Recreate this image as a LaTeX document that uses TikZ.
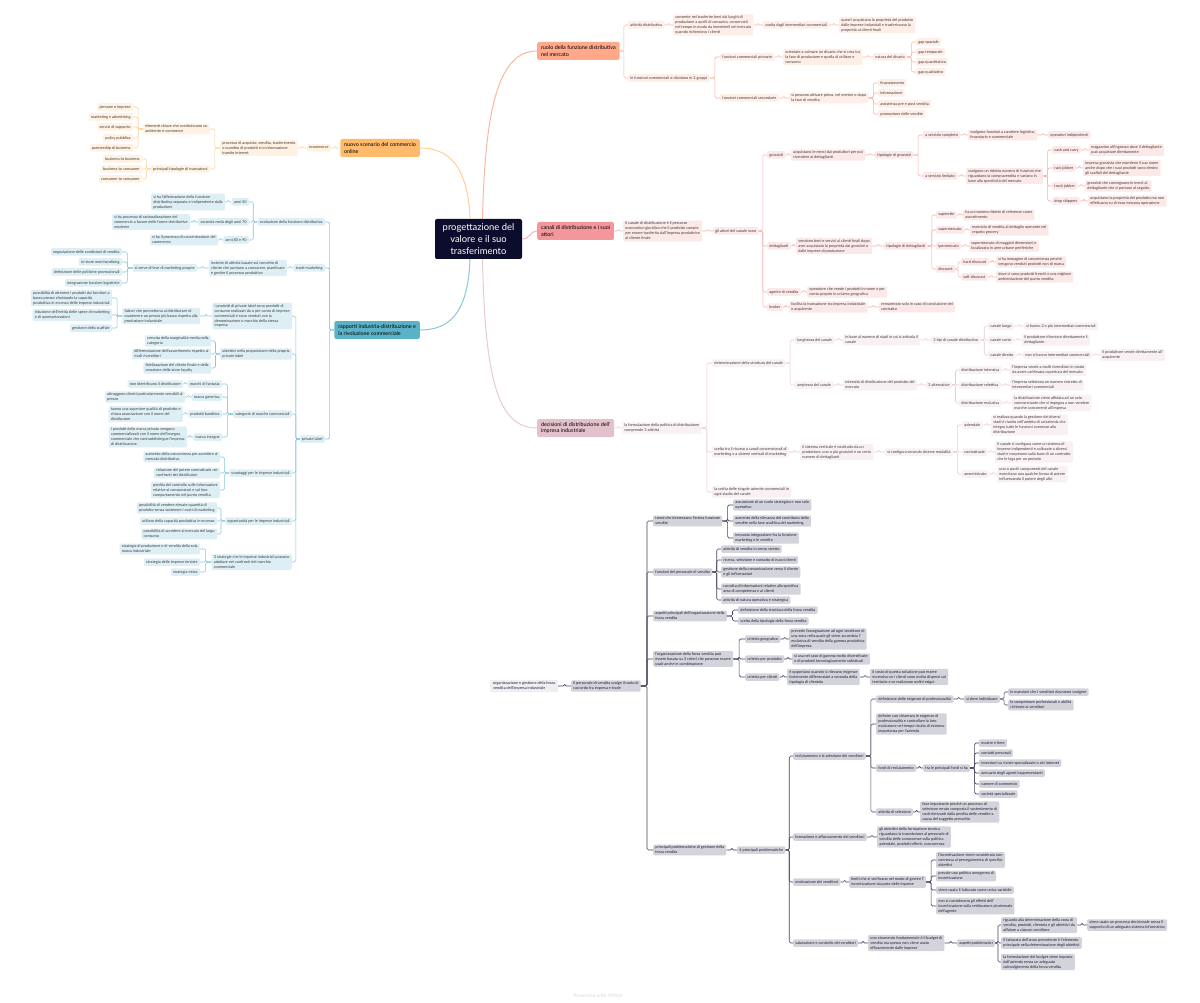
\documentclass[tikz,border=0pt]{standalone}
\usepackage{fontspec}
\setmainfont{Lato}
\usetikzlibrary{calc}
\definecolor{roM}{HTML}{FFA98A}\definecolor{roF}{HTML}{FFEEE7}\definecolor{roL}{HTML}{FBB8A2}
\definecolor{caM}{HTML}{F4979B}\definecolor{caF}{HTML}{FDE8E8}\definecolor{caL}{HTML}{F5AFB0}
\definecolor{deM}{HTML}{E3C1CB}\definecolor{deF}{HTML}{F9F0F3}\definecolor{deL}{HTML}{E6CBD4}
\definecolor{nsM}{HTML}{FFBA6B}\definecolor{nsF}{HTML}{FFF2E2}\definecolor{nsL}{HTML}{FFD096}
\definecolor{raM}{HTML}{5BB2C7}\definecolor{raF}{HTML}{DDEFF5}\definecolor{raL}{HTML}{86C9DA}
\definecolor{ogM}{HTML}{EFEFF3}\definecolor{ogF}{HTML}{D3D3DC}\definecolor{ogL}{HTML}{45455E}
\definecolor{ogT}{HTML}{1C1C30}\definecolor{txt}{HTML}{3A3A3A}\definecolor{rootF}{HTML}{0C0C2C}
\definecolor{footC}{HTML}{DADADA}
\newcommand\myleaf{\fontsize{3.85}{4.95}\selectfont}
\newcommand\mymain{\fontsize{5.4}{6.6}\selectfont}
\newcommand\cR[3]{\draw[#1] (#2.east) -- ($(#2.east)!.5!(#3.west|-#2.east)$) |- (#3.west);}
\newcommand\cL[3]{\draw[#1] (#2.west) -- ($(#2.west)!.5!(#3.east|-#2.west)$) |- (#3.east);}
\tikzset{
  leaf/.style={rounded corners=1.2pt, inner xsep=2.2pt, inner ysep=1.5pt, align=left, font=\myleaf, text=txt, minimum height=7.5pt},
  ro/.style={leaf, fill=roF, anchor=west},
  ca/.style={leaf, fill=caF, anchor=west},
  de/.style={leaf, fill=deF, anchor=west},
  ns/.style={leaf, fill=nsF, anchor=east},
  ra/.style={leaf, fill=raF, anchor=east},
  og/.style={leaf, fill=ogF, anchor=west, text=ogT},
  mainbox/.style={rounded corners=2pt, inner xsep=3.8pt, inner ysep=2.3pt, align=left, font=\mymain, minimum height=18pt, text=black},
  lk/.style={line width=0.55pt, rounded corners=1.5pt},
  lro/.style={lk, draw=roL}, lca/.style={lk, draw=caL}, lde/.style={lk, draw=deL},
  lns/.style={lk, draw=nsL}, lra/.style={lk, draw=raL}, log/.style={lk, draw=ogL, line width=0.6pt},
  trunk/.style={line width=1pt}
}
\begin{document}
\begin{tikzpicture}[x=1pt,y=-1pt]
\fill[white] (0,0) rectangle (1200,1003);
\useasboundingbox (0,0) rectangle (1200,1003);

% root
\node[fill=rootF, text=white, rounded corners=2pt, align=center, font=\fontsize{9.4}{11.6}\selectfont, minimum width=87pt, minimum height=40pt, inner sep=2pt] (root) at (478.5,239) {progettazione del\\valore e il suo\\trasferimento};

% main topics
\node[mainbox, fill=roM, anchor=west] (M1) at (537,51) {ruolo della funzione distributiva\\nel mercato};
\node[mainbox, fill=caM, anchor=west] (M2) at (537,231) {canali di distribuzione e i suoi\\attori};
\node[mainbox, fill=deM, anchor=west] (M3) at (537,428) {decisioni di distribuzione dell'\\impresa industriale};
\node[mainbox, fill=nsM, anchor=east] (M4) at (420,148) {nuovo scenario del commercio\\online};
\node[mainbox, fill=raM, anchor=east] (M5) at (420,330) {rapporti industria-distribuzione e\\la rivoluzione commerciale};
\node[leaf, fill=ogM, anchor=west, text=ogT, inner xsep=3pt, inner ysep=2pt] (M6) at (490,686) {organizzazione e gestione della forza\\vendita dell'impresa industriale};

\draw[trunk, roL] ($(root.north)+(4,0)$) .. controls (485,110) and (498,51) .. (M1.west);
\draw[trunk, caL] (root.east) .. controls (530,239) and (530,231) .. (M2.west);
\draw[trunk, deL] ($(root.south)+(4,0)$) .. controls (485,380) and (498,428) .. (M3.west);
\draw[trunk, nsL] ($(root.north)+(-8.5,0)$) .. controls (468,165) and (448,148) .. (M4.east);
\draw[trunk, raL] ($(root.south)+(-8.5,0)$) .. controls (468,315) and (448,330) .. (M5.east);

% ---------------- ruolo
\node[ro] (r1) at (628,25) {attività distributiva};
\node[ro] (r2) at (673,25) {consente nel trasferire beni dai luoghi di\\produzione a quelli di consumo, conservarli\\nel tempo in modo da immetterli nel mercato\\quando richiedono i clienti};
\node[ro] (r3) at (763,25) {svolta dagli intermediari commerciali};
\node[ro] (r4) at (839,25) {questi acquistano la proprietà del prodotto\\dalle imprese industriali e trasferiscono la\\proprietà ai clienti finali};
\node[ro] (r5) at (628,78) {le funzioni commerciali si dividono in 2 gruppi};
\node[ro] (r6) at (720,57) {funzioni commerciali primarie};
\node[ro] (r7) at (783,57) {orientate a colmare un divario che si crea tra\\la fase di produzione e quella di utilizzo e\\consumo};
\node[ro] (r8) at (873,57) {natura del divario};
\node[ro] (r9) at (916,42) {gap spaziale};
\node[ro] (r10) at (916,52) {gap temporale};
\node[ro] (r11) at (916,62) {gap quantitativo};
\node[ro] (r12) at (916,72) {gap qualitativo};
\node[ro] (r13) at (720,98) {funzioni commerciali secondarie};
\node[ro] (r14) at (789,98) {si possono attivare prima, nel mentre o dopo\\la fase di vendita};
\node[ro] (r15) at (878,83) {finanziamento};
\node[ro] (r16) at (878,93) {informazione};
\node[ro] (r17) at (878,104) {assistenza pre e post vendita};
\node[ro] (r18) at (878,114) {promozione delle vendite};
\cR{lro}{M1}{r1}\cR{lro}{M1}{r5}\cR{lro}{r1}{r2}\cR{lro}{r2}{r3}\cR{lro}{r3}{r4}
\cR{lro}{r5}{r6}\cR{lro}{r5}{r13}\cR{lro}{r6}{r7}\cR{lro}{r7}{r8}
\cR{lro}{r8}{r9}\cR{lro}{r8}{r10}\cR{lro}{r8}{r11}\cR{lro}{r8}{r12}
\cR{lro}{r13}{r14}\cR{lro}{r14}{r15}\cR{lro}{r14}{r16}\cR{lro}{r14}{r17}\cR{lro}{r14}{r18}

% ---------------- nuovo scenario
\node[ns] (n1) at (331,148) {ecommerce};
\node[ns] (n2) at (298,148) {processo di acquisto, vendita, trasferimento\\o scambio di prodotti e/o informazione\\tramite internet};
\node[ns] (n3) at (210,129) {elementi chiave che costituiscono un\\ambiente e-commerce};
\node[ns] (n4) at (133,107) {persone o imprese};
\node[ns] (n5) at (133,117) {marketing e advertising};
\node[ns] (n6) at (133,127) {servizi di supporto};
\node[ns] (n7) at (133,138) {policy pubblica};
\node[ns] (n8) at (133,148) {partnership di business};
\node[ns] (n9) at (210,169) {principali tipologie di transazioni};
\node[ns] (n10) at (142,159) {business to business};
\node[ns] (n11) at (142,169) {business to consumer};
\node[ns] (n12) at (142,179) {consumer to consumer};
\cL{lns}{M4}{n1}\cL{lns}{n1}{n2}\cL{lns}{n2}{n3}\cL{lns}{n2}{n9}
\cL{lns}{n3}{n4}\cL{lns}{n3}{n5}\cL{lns}{n3}{n6}\cL{lns}{n3}{n7}\cL{lns}{n3}{n8}
\cL{lns}{n9}{n10}\cL{lns}{n9}{n11}\cL{lns}{n9}{n12}

% ---------------- rapporti
\node[ra] (p1) at (325,222) {evoluzione della funzione distributiva};
\node[ra] (p2) at (249,202) {anni 50};
\node[ra] (p3) at (225,202) {si ha l'affermazione della funzione\\distributiva separata e indipendente dalla\\produzione};
\node[ra] (p4) at (249,222) {seconda metà degli anni 70};
\node[ra] (p5) at (190,222) {si ha processo di razionalizzazione del\\commercio a favore delle forme distributive\\moderne};
\node[ra] (p6) at (249,240) {anni 80 e 90};
\node[ra] (p7) at (218,240) {si ha il processo di concentrazione del\\commercio};
\node[ra] (p8) at (325,268) {trade marketing};
\node[ra] (p9) at (287,268) {insieme di attività basate sul concetto di\\cliente che puntano a conoscere, pianificare\\e gestire il processo produttivo};
\node[ra] (p10) at (197,268) {si serve di leve di marketing proprie};
\node[ra] (p11) at (122,252) {negoziazione delle condizioni di vendita};
\node[ra] (p12) at (122,262) {in-store merchandising};
\node[ra] (p13) at (122,272) {definizione delle politiche promozionali};
\node[ra] (p14) at (122,283) {integrazione funzioni logistiche};
\node[ra] (p15) at (325,439) {private label};
\node[ra] (p16) at (292,316) {i prodotti di private label sono prodotti di\\consumo realizzati da o per conto di imprese\\commerciali e sono venduti con la\\denominazione o marchio della stessa\\impresa};
\node[ra] (p17) at (200,316) {fattori che permettono al distributore di\\mantenere un prezzo più basso rispetto alla\\produzione industriale};
\node[ra] (p18) at (112,298) {possibilità di ottenere i prodotti dai fornitori a\\basso prezzo sfruttando la capacità\\produttiva in eccesso delle imprese industriali};
\node[ra] (p19) at (112,315) {riduzione dell'entità delle spese di marketing\\e di sponsorizzazioni};
\node[ra] (p20) at (112,328) {gestione dello scaffale};
\node[ra] (p21) at (292,354) {obiettivi nella proposizione della propria\\private label};
\node[ra] (p22) at (211,341) {crescita della marginalità media nella\\categoria};
\node[ra] (p23) at (211,354) {differenziazione dell'assortimento rispetto ai\\rivali rivenditori};
\node[ra] (p24) at (211,368) {fidelizzazione del cliente finale e della\\creazione della store loyalty};
\node[ra] (p25) at (292,414) {categorie di marche commerciali};
\node[ra] (p26) at (222,384) {marchi di fantasia};
\node[ra] (p27) at (183,384) {non identificano il distributore};
\node[ra] (p28) at (222,397) {marca generica};
\node[ra] (p29) at (185,397) {attraggono clienti particolarmente sensibili al\\prezzo};
\node[ra] (p30) at (222,414) {prodotti bandiera};
\node[ra] (p31) at (183,414) {hanno una superiore qualità di prodotto e\\chiara associazione con il nome del\\distributore};
\node[ra] (p32) at (222,437) {marca insegna};
\node[ra] (p33) at (187,437) {i prodotti della marca privata vengono\\commercializzati con il nome dell'insegna\\commerciale che contraddistingue l'impresa\\di distribuzione};
\node[ra] (p34) at (292,473) {svantaggi per le imprese industriali};
\node[ra] (p35) at (220,457) {aumento della concorrenza per accedere al\\mercato distributivo};
\node[ra] (p36) at (220,473) {riduzione del potere contrattuale nei\\confronti dei distributori};
\node[ra] (p37) at (220,490) {perdita del controllo sulle informazioni\\relative ai consumatori e sul loro\\comportamento nel punto vendita};
\node[ra] (p38) at (292,521) {opportunità per le imprese industriali};
\node[ra] (p39) at (217,508) {possibilità di vendere elevate quantità di\\prodotto senza sostenere i costi di marketing};
\node[ra] (p40) at (217,521) {utilizzo della capacità produttiva in eccesso};
\node[ra] (p41) at (217,534) {possibilità di accedere al mercato del largo\\consumo};
\node[ra] (p42) at (292,562) {3 strategie che le imprese industriali possono\\adottare nei confronti del marchio\\commerciale};
\node[ra] (p43) at (200,549) {strategia di produzione e di vendita della sola\\marca industriale};
\node[ra] (p44) at (200,562) {strategia delle imprese terziste};
\node[ra] (p45) at (200,572) {strategia mista};
\cL{lra}{M5}{p1}\cL{lra}{M5}{p8}\cL{lra}{M5}{p15}
\cL{lra}{p1}{p2}\cL{lra}{p1}{p4}\cL{lra}{p1}{p6}\cL{lra}{p2}{p3}\cL{lra}{p4}{p5}\cL{lra}{p6}{p7}
\cL{lra}{p8}{p9}\cL{lra}{p9}{p10}\cL{lra}{p10}{p11}\cL{lra}{p10}{p12}\cL{lra}{p10}{p13}\cL{lra}{p10}{p14}
\cL{lra}{p15}{p16}\cL{lra}{p15}{p21}\cL{lra}{p15}{p25}\cL{lra}{p15}{p34}\cL{lra}{p15}{p38}\cL{lra}{p15}{p42}
\cL{lra}{p16}{p17}\cL{lra}{p17}{p18}\cL{lra}{p17}{p19}\cL{lra}{p17}{p20}
\cL{lra}{p21}{p22}\cL{lra}{p21}{p23}\cL{lra}{p21}{p24}
\cL{lra}{p25}{p26}\cL{lra}{p25}{p28}\cL{lra}{p25}{p30}\cL{lra}{p25}{p32}
\cL{lra}{p26}{p27}\cL{lra}{p28}{p29}\cL{lra}{p30}{p31}\cL{lra}{p32}{p33}
\cL{lra}{p34}{p35}\cL{lra}{p34}{p36}\cL{lra}{p34}{p37}
\cL{lra}{p38}{p39}\cL{lra}{p38}{p40}\cL{lra}{p38}{p41}
\cL{lra}{p42}{p43}\cL{lra}{p42}{p44}\cL{lra}{p42}{p45}

% ---------------- canali
\node[ca] (c1) at (623,231) {il canale di distribuzione è il percorso\\economico-giuridico che il prodotto compie\\per essere trasferito dall'impresa produttrice\\al cliente finale};
\node[ca] (c2) at (713,231) {gli attori del canale sono};
\node[ca] (c3) at (767,155) {grossisti};
\node[ca] (c4) at (791,155) {acquistano le merci dai produttori per poi\\rivendere ai dettaglianti};
\node[ca] (c5) at (875,155) {tipologie di grossisti};
\node[ca] (c6) at (923,135) {a servizio completo};
\node[ca] (c7) at (968,135) {svolgono funzioni a carattere logistico,\\finanziario e commerciale};
\node[ca] (c8) at (1048,135) {operatori indipendenti};
\node[ca] (c9) at (923,176) {a servizio limitato};
\node[ca] (c10) at (966,176) {svolgono un ridotto numero di funzioni che\\riguardano la compravendita e variano in\\base alla specificità del mercato};
\node[ca] (c11) at (1052,150) {cash and carry};
\node[ca] (c12) at (1089,150) {magazzino all'ingrosso dove il dettagliante\\può acquistare direttamente};
\node[ca] (c13) at (1052,168) {rack jobber};
\node[ca] (c14) at (1083,168) {impresa grossista che mantiene il suo nome\\anche dopo che i suoi prodotti sono dentro\\gli scaffali del dettagliante};
\node[ca] (c15) at (1052,186) {truck jobber};
\node[ca] (c16) at (1085,186) {grossisti che consegnano le merci al\\dettagliante che si portano al seguito};
\node[ca] (c17) at (1052,201) {drop shippers};
\node[ca] (c18) at (1088,201) {acquistano la proprietà del prodotto ma non\\effettuano su di esso nessuna operazione};
\node[ca] (c19) at (767,246) {dettaglianti};
\node[ca] (c20) at (796,246) {vendono beni e servizi ai clienti finali dopo\\aver acquistato la proprietà dai grossisti o\\dalle imprese di produzione};
\node[ca] (c21) at (884,246) {tipologie di dettaglianti};
\node[ca] (c22) at (936,215) {superette};
\node[ca] (c23) at (963,215) {ha un numero ridotto di referenze come\\assortimento};
\node[ca] (c24) at (936,230) {supermercato};
\node[ca] (c25) at (970,230) {esercizio di vendita al dettaglio operante nel\\reparto grocery};
\node[ca] (c26) at (936,246) {ipermercato};
\node[ca] (c27) at (969,246) {supermercato di maggiori dimensioni e\\localizzato in aree urbane periferiche};
\node[ca] (c28) at (936,269) {discount};
\node[ca] (c29) at (961,262) {hard discount};
\node[ca] (c30) at (996,262) {si ha immagine di convenienza perché\\vengono venduti prodotti non di marca};
\node[ca] (c31) at (961,277) {soft discount};
\node[ca] (c32) at (996,277) {dove ci sono prodotti freschi e una migliore\\ambientazione del punto vendita};
\node[ca] (c33) at (767,292) {agente di vendita};
\node[ca] (c34) at (807,292) {operatore che vende i prodotti in nome e per\\conto proprio in un'area geografica};
\node[ca] (c35) at (767,307) {broker};
\node[ca] (c36) at (789,307) {facilita la transazione tra impresa industriale\\e acquirente};
\node[ca] (c37) at (879,307) {remunerato solo in caso di conclusione del\\contratto};
\cR{lca}{M2}{c1}\cR{lca}{c1}{c2}
\cR{lca}{c2}{c3}\cR{lca}{c2}{c19}\cR{lca}{c2}{c33}\cR{lca}{c2}{c35}
\cR{lca}{c3}{c4}\cR{lca}{c4}{c5}\cR{lca}{c5}{c6}\cR{lca}{c5}{c9}
\cR{lca}{c6}{c7}\cR{lca}{c7}{c8}
\cR{lca}{c9}{c10}\cR{lca}{c10}{c11}\cR{lca}{c10}{c13}\cR{lca}{c10}{c15}\cR{lca}{c10}{c17}
\cR{lca}{c11}{c12}\cR{lca}{c13}{c14}\cR{lca}{c15}{c16}\cR{lca}{c17}{c18}
\cR{lca}{c19}{c20}\cR{lca}{c20}{c21}
\cR{lca}{c21}{c22}\cR{lca}{c21}{c24}\cR{lca}{c21}{c26}\cR{lca}{c21}{c28}
\cR{lca}{c22}{c23}\cR{lca}{c24}{c25}\cR{lca}{c26}{c27}
\cR{lca}{c28}{c29}\cR{lca}{c28}{c31}\cR{lca}{c29}{c30}\cR{lca}{c31}{c32}
\cR{lca}{c33}{c34}\cR{lca}{c35}{c36}\cR{lca}{c36}{c37}

% ---------------- decisioni
\node[de] (d1) at (622,428) {la formulazione della politica di distribuzione\\comprende 3 attività};
\node[de] (d2) at (712,363) {determinazione della struttura del canale};
\node[de] (d3) at (795,340) {lunghezza del canale};
\node[de] (d4) at (843,340) {in base al numero di stadi in cui si articola il\\canale};
\node[de] (d5) at (931,340) {3 tipi di canale distributivo};
\node[de] (d6) at (988,326) {canale lungo};
\node[de] (d7) at (1024,326) {si hanno 2 o più intermediari commerciali};
\node[de] (d8) at (988,340) {canale corto};
\node[de] (d9) at (1022,340) {il produttore rifornisce direttamente il\\dettagliante};
\node[de] (d10) at (988,355) {canale diretto};
\node[de] (d11) at (1023,355) {non si hanno intermediari commerciali};
\node[de] (d12) at (1100,355) {il produttore vende direttamente all'\\acquirente};
\node[de] (d13) at (795,385) {ampiezza del canale};
\node[de] (d14) at (843,385) {intensità di distribuzione del prodotto del\\mercato};
\node[de] (d15) at (926,385) {3 alternative};
\node[de] (d16) at (959,370) {distribuzione intensiva};
\node[de] (d17) at (1010,370) {l'impresa vende a molti rivenditori in modo\\da avere un'elevata copertura del mercato};
\node[de] (d18) at (959,385) {distribuzione selettiva};
\node[de] (d19) at (1010,385) {l'impresa seleziona un numero ristretto di\\intermediari commerciali};
\node[de] (d20) at (959,403) {distribuzione esclusiva};
\node[de] (d21) at (1012,403) {la distribuzione viene affidata ad un solo\\commerciante che si impegna a non vendere\\marche concorrenti all'impresa};
\node[de] (d22) at (712,452) {scelta tra il ricorso a canali convenzionali di\\marketing o a sistemi verticali di marketing};
\node[de] (d23) at (800,452) {il sistema verticale è costituito da un\\produttore, uno o più grossisti e un certo\\numero di dettaglianti};
\node[de] (d24) at (885,452) {si configura secondo diverse modalità};
\node[de] (d25) at (962,425) {aziendale};
\node[de] (d26) at (991,425) {si realizza quando la gestione dei diversi\\stadi è riunita nell'ambito di un'azienda che\\integra tutte le funzioni connesse alla\\distribuzione};
\node[de] (d27) at (962,452) {contrattuale};
\node[de] (d28) at (995,452) {il canale si configura come un sistema di\\imprese indipendenti e collocate a diversi\\stadi e cooperano sulla base di un contratto\\che le lega per un periodo};
\node[de] (d29) at (962,474) {amministrato};
\node[de] (d30) at (997,474) {uno o pochi componenti del canale\\esercitano una qualche forma di potere\\influenzando il potere degli altri};
\node[de] (d31) at (712,492) {la scelta delle singole aziende commerciali in\\ogni stadio del canale};
\cR{lde}{M3}{d1}\cR{lde}{d1}{d2}\cR{lde}{d1}{d22}\cR{lde}{d1}{d31}
\cR{lde}{d2}{d3}\cR{lde}{d2}{d13}\cR{lde}{d3}{d4}\cR{lde}{d4}{d5}
\cR{lde}{d5}{d6}\cR{lde}{d5}{d8}\cR{lde}{d5}{d10}\cR{lde}{d6}{d7}\cR{lde}{d8}{d9}\cR{lde}{d10}{d11}\cR{lde}{d11}{d12}
\cR{lde}{d13}{d14}\cR{lde}{d14}{d15}\cR{lde}{d15}{d16}\cR{lde}{d15}{d18}\cR{lde}{d15}{d20}
\cR{lde}{d16}{d17}\cR{lde}{d18}{d19}\cR{lde}{d20}{d21}
\cR{lde}{d22}{d23}\cR{lde}{d23}{d24}\cR{lde}{d24}{d25}\cR{lde}{d24}{d27}\cR{lde}{d24}{d29}
\cR{lde}{d25}{d26}\cR{lde}{d27}{d28}\cR{lde}{d29}{d30}

% ---------------- organizzazione
\node[og] (g1) at (571,686) {il personale di vendita svolge il ruolo di\\raccordo fra impresa e trade};
\node[og] (g2) at (653,521) {trend che interessano l'intera funzione\\vendite};
\node[og] (g3) at (733,505) {assunzione di un ruolo strategico e non solo\\operativo};
\node[og] (g4) at (733,521) {aumento della rilevanza del contributo della\\vendite nella fase analitica del marketing};
\node[og] (g5) at (733,538) {innovata integrazione fra la funzione\\marketing e le vendite};
\node[og] (g6) at (653,572) {funzioni del personale di vendita};
\node[og] (g7) at (721,549) {attività di vendita in senso stretto};
\node[og] (g8) at (721,560) {ricerca, selezione e contatto di nuovi clienti};
\node[og] (g9) at (721,572) {gestione della comunicazione verso il cliente\\e gli influenzatori};
\node[og] (g10) at (721,589) {raccolta di informazioni relative alla specifica\\area di competenza e ai clienti};
\node[og] (g11) at (721,600) {attività di natura operativa e strategica};
\node[og] (g12) at (653,616) {aspetti principali dell'organizzazione della\\forza vendita};
\node[og] (g13) at (738,610) {definizione della struttura della forza vendita};
\node[og] (g14) at (738,621) {scelta della tipologia della forza vendita};
\node[og] (g15) at (653,659) {l'organizzazione della forza vendita può\\essere basata su 3 criteri che possono essere\\usati anche in combinazione};
\node[og] (g16) at (745,639) {criterio geografico};
\node[og] (g17) at (789,639) {prevede l'assegnazione ad ogni venditore di\\una zona nella quale gli viene accordata l'\\esclusiva di vendita della gamma produttiva\\dell'impresa};
\node[og] (g18) at (745,659) {criterio per prodotto};
\node[og] (g19) at (792,659) {si usa nel caso di gamma molto diversificate\\e di prodotti tecnologicamente sofisticati};
\node[og] (g20) at (745,677) {criterio per clienti};
\node[og] (g21) at (787,677) {è opportuno quando si rilevano esigenze\\fortemente differenziate a seconda della\\tipologia di clientela};
\node[og] (g22) at (870,677) {il costo di questa soluzione può essere\\eccessivo se i clienti sono molto dispersi sul\\territorio e se realizzano ordini esigui};
\node[og] (g23) at (653,850) {principali problematiche di gestione della\\forza vendita};
\node[og] (g24) at (737,850) {4 principali problematiche};
\node[og] (g25) at (793,756) {reclutamento e la selezione dei venditori};
\node[og] (g26) at (876,699) {definizione delle esigenze di professionalità};
\node[og] (g27) at (964,699) {si deve individuare};
\node[og] (g28) at (1008,692) {le mansioni che i venditori dovranno svolgere};
\node[og] (g29) at (1008,705) {le competenze professionali e abilità\\richieste ai venditori};
\node[og] (g30) at (876,724) {definire con chiarezza le esigenze di\\professionalità e controllare la loro\\evoluzione nel tempo risulta di estrema\\importanza per l'azienda};
\node[og] (g31) at (876,768) {fonti di reclutamento};
\node[og] (g32) at (923,768) {fra le principali fonti si ha};
\node[og] (g33) at (979,743) {mostre e fiere};
\node[og] (g34) at (979,753) {contatti personali};
\node[og] (g35) at (979,763) {inserzioni su riviste specializzate o siti internet};
\node[og] (g36) at (979,773) {annuario degli agenti/rappresentanti};
\node[og] (g37) at (979,784) {camere di commercio};
\node[og] (g38) at (979,794) {società specializzate};
\node[og] (g39) at (876,812) {attività di selezione};
\node[og] (g40) at (920,812) {fase importante perché un processo di\\selezione errato comporta il sostenimento di\\costi derivanti dalla perdita delle vendite a\\causa del soggetto prescelto};
\node[og] (g41) at (793,837) {formazione e affiancamento dei venditori};
\node[og] (g42) at (877,837) {gli obiettivi della formazione tecnica\\riguardano la trasmissione al personale di\\vendita delle conoscenze sulla politica\\aziendale, prodotti offerti, concorrenza};
\node[og] (g43) at (793,882) {motivazione dei venditori};
\node[og] (g44) at (849,882) {limiti che si verificano nel modo di gestire l'\\incentivazione da parte delle imprese};
\node[og] (g45) at (936,860) {l'incentivazione viene considerata non\\connessa al perseguimento di specifici\\obiettivi};
\node[og] (g46) at (936,876) {prevale una politica omogenea di\\incentivazione};
\node[og] (g47) at (936,890) {viene usato il fatturato come unica variabile};
\node[og] (g48) at (936,906) {non si considerano gli effetti dell'\\incentivazione sulla retribuzione pluriennale\\dell'agente};
\node[og] (g49) at (793,943) {valutazione e controllo dei venditori};
\node[og] (g50) at (868,943) {uno strumento fondamentale è il budget di\\vendita ma spesso non viene usato\\efficacemente dalle imprese};
\node[og] (g51) at (957,943) {aspetti problematici};
\node[og] (g52) at (1001,925) {riguardo alla determinazione della zona di\\vendita, prodotti, clientela e gli obiettivi da\\affidare a ciascun venditore};
\node[og] (g53) at (1087,925) {viene usato un processo decisionale senza il\\supporto di un adeguato sistema informativo};
\node[og] (g54) at (1001,943) {il fatturato dell'anno precedente è l'elemento\\principale nella determinazione degli obiettivi};
\node[og] (g55) at (1001,962) {la formulazione del budget viene imposta\\dall'azienda senza un adeguato\\coinvolgimento della forza vendita};
\cR{log}{M6}{g1}
\cR{log}{g1}{g2}\cR{log}{g1}{g6}\cR{log}{g1}{g12}\cR{log}{g1}{g15}\cR{log}{g1}{g23}
\cR{log}{g2}{g3}\cR{log}{g2}{g4}\cR{log}{g2}{g5}
\cR{log}{g6}{g7}\cR{log}{g6}{g8}\cR{log}{g6}{g9}\cR{log}{g6}{g10}\cR{log}{g6}{g11}
\cR{log}{g12}{g13}\cR{log}{g12}{g14}
\cR{log}{g15}{g16}\cR{log}{g15}{g18}\cR{log}{g15}{g20}
\cR{log}{g16}{g17}\cR{log}{g18}{g19}\cR{log}{g20}{g21}\cR{log}{g21}{g22}
\cR{log}{g23}{g24}
\cR{log}{g24}{g25}\cR{log}{g24}{g41}\cR{log}{g24}{g43}\cR{log}{g24}{g49}
\cR{log}{g25}{g26}\cR{log}{g25}{g30}\cR{log}{g25}{g31}\cR{log}{g25}{g39}
\cR{log}{g26}{g27}\cR{log}{g27}{g28}\cR{log}{g27}{g29}
\cR{log}{g31}{g32}
\cR{log}{g32}{g33}\cR{log}{g32}{g34}\cR{log}{g32}{g35}\cR{log}{g32}{g36}\cR{log}{g32}{g37}\cR{log}{g32}{g38}
\cR{log}{g39}{g40}\cR{log}{g41}{g42}
\cR{log}{g43}{g44}\cR{log}{g44}{g45}\cR{log}{g44}{g46}\cR{log}{g44}{g47}\cR{log}{g44}{g48}
\cR{log}{g49}{g50}\cR{log}{g50}{g51}\cR{log}{g51}{g52}\cR{log}{g51}{g54}\cR{log}{g51}{g55}\cR{log}{g52}{g53}

% footer
\node[text=footC, font=\fontsize{5}{6}\selectfont] (foot) at (598,996) {Presented with XMind};
\end{tikzpicture}
\end{document}
